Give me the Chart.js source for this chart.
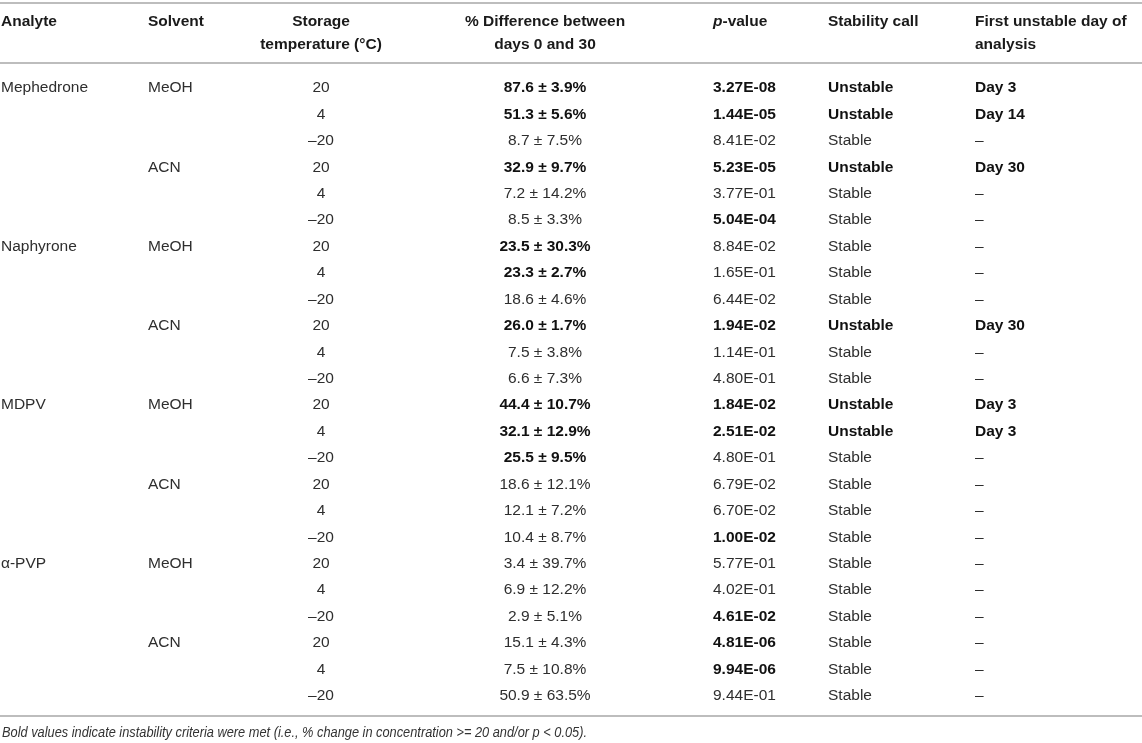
<!DOCTYPE html>
<html>
<head>
<meta charset="utf-8">
<title>Stability table</title>
<script src="https://cdn.jsdelivr.net/npm/chart.js@4.4.1/dist/chart.umd.min.js"></script>
<style>
  html, body { margin: 0; padding: 0; background: #fff; }
  #wrap { width: 1142px; height: 743px; position: relative; }
</style>
</head>
<body>
<div id="wrap"><canvas id="tableChart"></canvas></div>
<script>
// Table data
const analytes = ['Mephedrone', '', '', '', '', '', 'Naphyrone', '', '', '', '', '', 'MDPV', '', '', '', '', '', 'α-PVP', '', '', '', '', ''];
const solvents = ['MeOH', '', '', 'ACN', '', '', 'MeOH', '', '', 'ACN', '', '', 'MeOH', '', '', 'ACN', '', '', 'MeOH', '', '', 'ACN', '', ''];
const temps = ['20', '4', '–20', '20', '4', '–20', '20', '4', '–20', '20', '4', '–20', '20', '4', '–20', '20', '4', '–20', '20', '4', '–20', '20', '4', '–20'];
const diffs = ['87.6 ± 3.9%', '51.3 ± 5.6%', '8.7 ± 7.5%', '32.9 ± 9.7%', '7.2 ± 14.2%', '8.5 ± 3.3%',
    '23.5 ± 30.3%', '23.3 ± 2.7%', '18.6 ± 4.6%', '26.0 ± 1.7%', '7.5 ± 3.8%', '6.6 ± 7.3%',
    '44.4 ± 10.7%', '32.1 ± 12.9%', '25.5 ± 9.5%', '18.6 ± 12.1%', '12.1 ± 7.2%', '10.4 ± 8.7%',
    '3.4 ± 39.7%', '6.9 ± 12.2%', '2.9 ± 5.1%', '15.1 ± 4.3%', '7.5 ± 10.8%', '50.9 ± 63.5%'];
const diffBold = [1, 1, 0, 1, 0, 0, 1, 1, 0, 1, 0, 0, 1, 1, 1, 0, 0, 0, 0, 0, 0, 0, 0, 0];
const pValues = ['3.27E-08', '1.44E-05', '8.41E-02', '5.23E-05', '3.77E-01', '5.04E-04',
    '8.84E-02', '1.65E-01', '6.44E-02', '1.94E-02', '1.14E-01', '4.80E-01',
    '1.84E-02', '2.51E-02', '4.80E-01', '6.79E-02', '6.70E-02', '1.00E-02',
    '5.77E-01', '4.02E-01', '4.61E-02', '4.81E-06', '9.94E-06', '9.44E-01'];
const pBold = [1, 1, 0, 1, 0, 1, 0, 0, 0, 1, 0, 0, 1, 1, 0, 0, 0, 1, 0, 0, 1, 1, 1, 0];
const calls = ['Unstable', 'Unstable', 'Stable', 'Unstable', 'Stable', 'Stable',
    'Stable', 'Stable', 'Stable', 'Unstable', 'Stable', 'Stable',
    'Unstable', 'Unstable', 'Stable', 'Stable', 'Stable', 'Stable',
    'Stable', 'Stable', 'Stable', 'Stable', 'Stable', 'Stable'];
const firstDays = ['Day 3', 'Day 14', '–', 'Day 30', '–', '–', '–', '–', '–', 'Day 30', '–', '–',
    'Day 3', 'Day 3', '–', '–', '–', '–', '–', '–', '–', '–', '–', '–'];
const headers1 = ['Analyte', 'Solvent', 'Storage', '% Difference between', 'p-value', 'Stability call', 'First unstable day of'];
const headers2 = ['', '', 'temperature (°C)', 'days 0 and 30', '', '', 'analysis'];
const footnote = 'Bold values indicate instability criteria were met (i.e., % change in concentration >= 20 and/or p < 0.05).';

// Column layout (anchor x, alignment)
const columns = [
    { x: 1, align: 'left' },
    { x: 148, align: 'left' },
    { x: 321, align: 'center' },
    { x: 545, align: 'center' },
    { x: 713, align: 'left' },
    { x: 828, align: 'left' },
    { x: 975, align: 'left' }
];

const FONT = '"Liberation Sans", Arial, Helvetica, sans-serif';
const REGULAR = '15.5px ' + FONT;
const BOLD = 'bold 15.5px ' + FONT;
const BASE_SHIFT = 5.2; // row centre -> text baseline

const rowIdx = temps.map((_, i) => i);
const bodyCols = [
    { texts: analytes, bold: analytes.map(() => 0) },
    { texts: solvents, bold: solvents.map(() => 0) },
    { texts: temps, bold: temps.map(() => 0) },
    { texts: diffs, bold: diffBold },
    { texts: pValues, bold: pBold },
    { texts: calls, bold: calls.map(c => c === 'Unstable' ? 1 : 0) },
    { texts: firstDays, bold: firstDays.map(d => d !== '–' ? 1 : 0) }
];

// header rows and rules sit at fractional row positions
const HEAD1 = -2.52;
const HEAD2 = -1.64;
const RULES = [-3.18, -0.91, 23.8];
const FOOT = 24.4;

const datasets = bodyCols.map((col, c) => ({
    label: 'col' + c,
    data: rowIdx.map(i => ({ x: columns[c].x, y: i })),
    texts: col.texts,
    bold: col.bold,
    align: columns[c].align,
    pointRadius: 0
}));
datasets.push({
    label: 'head1',
    data: columns.map(col => ({ x: col.x, y: HEAD1 })),
    texts: headers1, header: true,
    pointRadius: 0
});
datasets.push({
    label: 'head2',
    data: columns.map(col => ({ x: col.x, y: HEAD2 })),
    texts: headers2, header: true,
    pointRadius: 0
});
datasets.push({
    label: 'foot',
    data: [{ x: 2, y: FOOT }],
    texts: [footnote], foot: true,
    pointRadius: 0
});

const tablePlugin = {
    id: 'tableText',
    afterDatasetsDraw(chart) {
        const ctx = chart.ctx;
        const yScale = chart.scales.y;
        const xScale = chart.scales.x;
        ctx.save();
        // horizontal rules
        ctx.strokeStyle = '#bdbdbd';
        ctx.lineWidth = 2;
        RULES.forEach(r => {
            const py = Math.round(yScale.getPixelForValue(r));
            ctx.beginPath();
            ctx.moveTo(xScale.getPixelForValue(0), py);
            ctx.lineTo(xScale.getPixelForValue(1142), py);
            ctx.stroke();
        });
        ctx.textBaseline = 'alphabetic';
        chart.data.datasets.forEach((ds, d) => {
            const meta = chart.getDatasetMeta(d);
            meta.data.forEach((pt, i) => {
                const txt = ds.texts[i];
                if (!txt) return;
                const by = pt.y + BASE_SHIFT;
                if (ds.foot) {
                    // condensed italic footnote, squeezed to the reference width
                    ctx.font = 'italic 15.5px ' + FONT;
                    ctx.fillStyle = '#333';
                    ctx.textAlign = 'left';
                    const w = ctx.measureText(txt).width;
                    const sx = 585 / w;
                    ctx.save();
                    ctx.translate(pt.x, by);
                    ctx.scale(sx, 1);
                    ctx.fillText(txt, 0, 0);
                    ctx.restore();
                    return;
                }
                const align = ds.header ? columns[i].align : ds.align;
                ctx.textAlign = align;
                if (ds.header) {
                    ctx.font = BOLD;
                    ctx.fillStyle = '#1a1a1a';
                    if (txt === 'p-value') {
                        ctx.font = 'italic bold 15.5px ' + FONT;
                        ctx.fillText('p', pt.x, by);
                        const w = ctx.measureText('p').width;
                        ctx.font = BOLD;
                        ctx.fillText('-value', pt.x + w, by);
                        return;
                    }
                    ctx.fillText(txt, pt.x, by);
                    return;
                }
                const isBold = ds.bold[i];
                ctx.font = isBold ? BOLD : REGULAR;
                ctx.fillStyle = isBold ? '#111' : '#2e2e2e';
                ctx.fillText(txt, pt.x, by);
            });
        });
        ctx.restore();
    }
};

const rowPx = 26.435;
new Chart(document.getElementById('tableChart'), {
    type: 'scatter',
    data: { datasets },
    options: {
        responsive: true,
        maintainAspectRatio: false,
        animation: false,
        layout: { padding: 0 },
        events: [],
        scales: {
            x: { type: 'linear', display: false, min: 0, max: 1142 },
            y: { type: 'linear', display: false, reverse: true, min: -87 / rowPx, max: (743 - 87) / rowPx }
        },
        plugins: {
            legend: { display: false },
            tooltip: { enabled: false }
        }
    },
    plugins: [tablePlugin]
});
</script>
</body>
</html>
